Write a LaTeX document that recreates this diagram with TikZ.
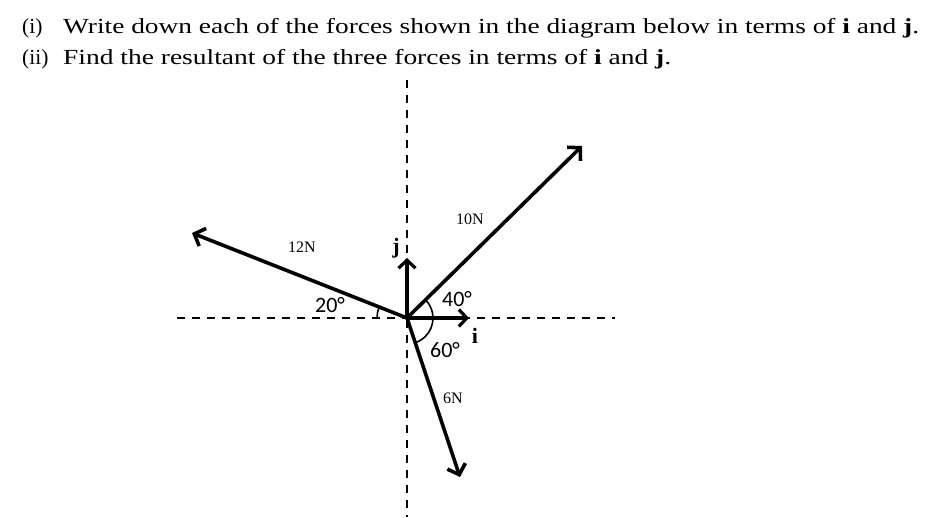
\documentclass[tikz,border=0pt]{standalone}
\usepackage{fontspec}
\setmainfont{Liberation Serif}
\newfontfamily\calib{Carlito}
\usetikzlibrary{arrows.meta}
\begin{document}
\begin{tikzpicture}[x=1pt,y=-1pt,
  force/.style={line width=3.6pt,line cap=round,-{Straight Barb[length=9pt,width=19pt]}},
  unitvec/.style={line width=3.2pt,-{Straight Barb[length=8pt,width=17pt]}},
  axis/.style={line width=2.6pt,dash pattern=on 8pt off 7pt},
  anglearc/.style={line width=1.6pt},
  qtext/.style={font=\fontsize{21.5}{25}\selectfont,anchor=base west,inner sep=0pt},
  flabel/.style={font=\fontsize{16}{18}\selectfont,inner sep=0pt},
  alabel/.style={font=\calib\fontsize{22}{24}\selectfont,inner sep=0pt},
  ulabel/.style={font=\bfseries\fontsize{22}{24}\selectfont,inner sep=0pt}]
\useasboundingbox (0,0) rectangle (928,517);
% question text
\node[qtext] (q1a) at (22,33) {(i)};
\node[qtext] (q1b) at (63,33) {\resizebox{856pt}{\height}{Write down each of the forces shown in the diagram below in terms of \textbf{i} and \textbf{j}.}};
\node[qtext] (q2a) at (22,64) {(ii)};
\node[qtext] (q2b) at (63,64) {\resizebox{608pt}{\height}{Find the resultant of the three forces in terms of \textbf{i} and \textbf{j}.}};
% axes
\coordinate (O) at (407,318);
\coordinate (vtop) at (407,80);
\coordinate (vbot) at (407,517);
\coordinate (hl) at (177,318);
\coordinate (hr) at (615,318);
\draw[axis] (vtop) -- (vbot);
\draw[axis] (hl) -- (hr);
% forces
\coordinate (t12) at (192,233);
\coordinate (t10) at (582,146);
\coordinate (t6) at (460,477);
\coordinate (ti) at (469,318);
\coordinate (tj) at (407,258);
\draw[force] (O) -- (t12);
\draw[force] (O) -- (t10);
\draw[force] (O) -- (t6);
\draw[unitvec] (O) -- (ti);
\draw[unitvec] (O) -- (tj);
% angle arcs
\draw[anglearc] (O) ++(-30,0) arc[start angle=180,end angle=201.6,radius=30];
\draw[anglearc] (O) ++(-44.5:26) arc[start angle=-44.5,end angle=71.6,radius=26];
% labels
\node[flabel] (l12) at (302,247) {12N};
\node[flabel] (l10) at (470,219) {10N};
\node[flabel] (l6) at (453,398) {6N};
\node[alabel] (a20) at (330,305) {20°};
\node[alabel] (a40) at (457,299) {40°};
\node[alabel] (a60) at (445,350) {60°};
\node[ulabel] (li) at (475,336) {i};
\node[ulabel] (lj) at (396,248) {j};
\end{tikzpicture}
\end{document}
